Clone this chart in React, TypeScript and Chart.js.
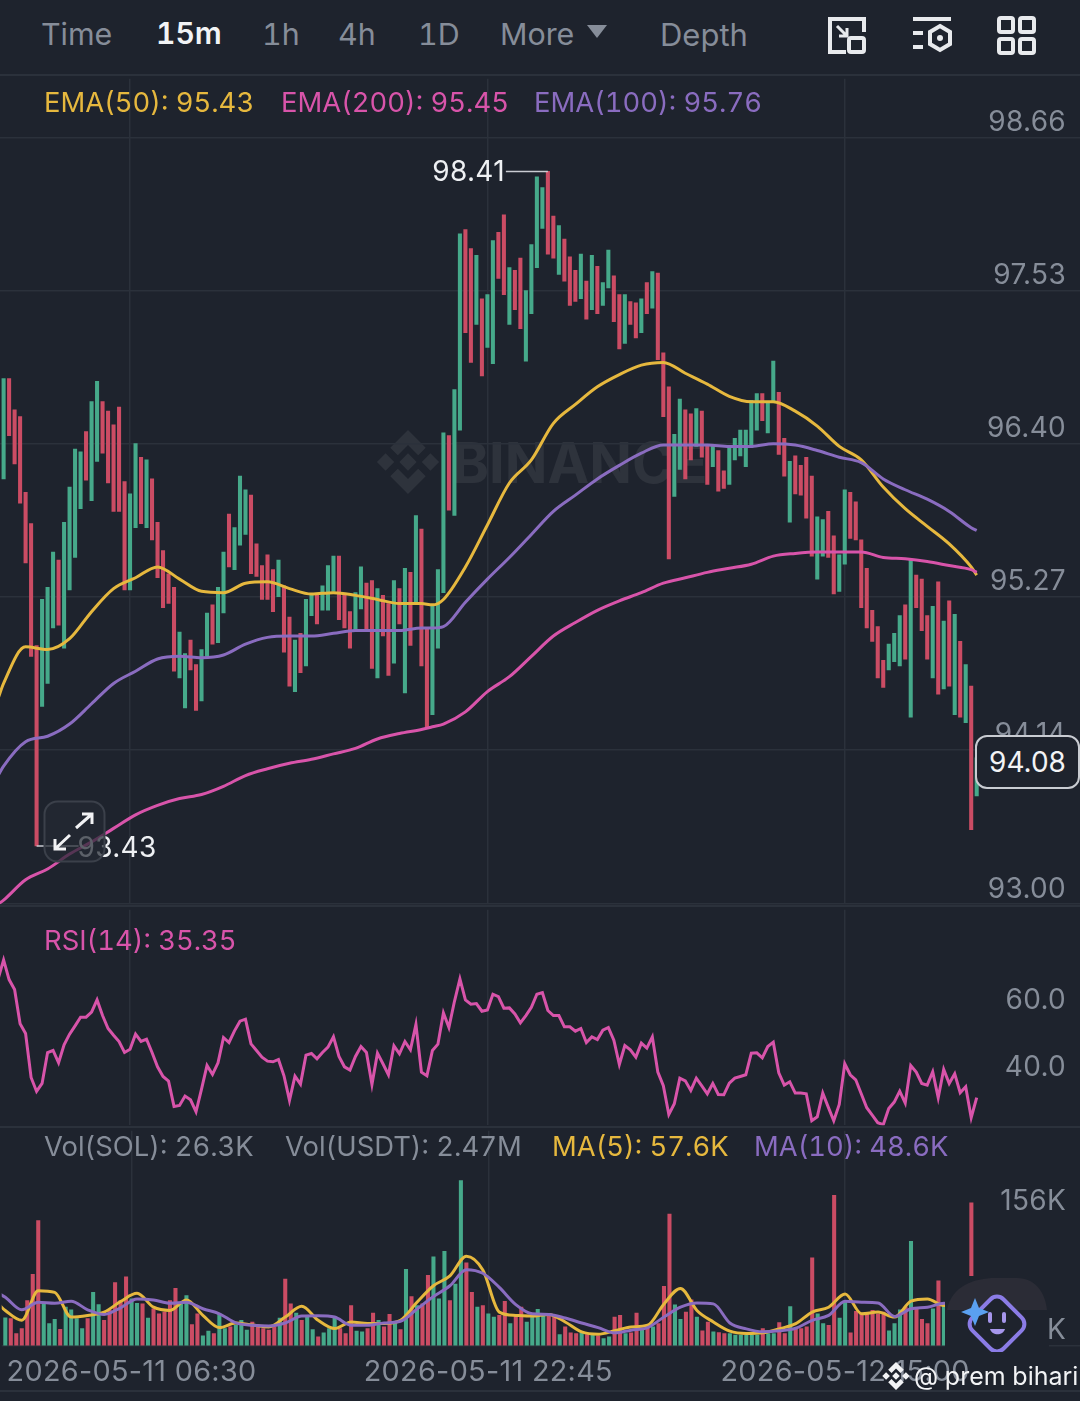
import React, { useEffect, useRef } from "react";
import { Chart, registerables } from "chart.js";

Chart.register(...registerables);

const directions =
  "GRRRRRRGGG" + "RGGGGRGGRR" + "RRRGGRGRRR" + "RRGGRRGGRG" + "GRGGGRRRRR" + "GRRGRGGRGG" +
  "GRRRGGRRGR" + "RGRGRGRRGG" + "GRGGRRGRGG" + "RRGRRGGGGR" + "RGRRRGRGRG" + "GRRGRRGRGR" +
  "RRGGRRGRRG" + "RRGGGGGGRG" + "GRRGRRRRGG" + "RRGGRRRRRR" + "RGGGRGRRRG" + "RGRGRGRG";

const highs = [
  96.88, 96.88, 96.65, 96.60, 96.04, 95.81, 94.91, 95.25, 95.34, 95.60,
  95.54, 95.82, 96.08, 96.36, 96.34, 96.49, 96.71, 96.86, 96.71, 96.64,
  96.54, 96.67, 96.12, 96.03, 96.40, 96.30, 96.28, 96.14, 95.82, 95.61,
  95.44, 95.34, 95.01, 94.85, 94.95, 94.77, 94.88, 95.15, 95.21, 95.34,
  95.60, 95.88, 95.78, 96.16, 96.06, 96.02, 95.66, 95.50, 95.58, 95.47,
  95.54, 95.35, 95.12, 94.95, 95.00, 95.25, 95.28, 95.28, 95.35, 95.50,
  95.57, 95.57, 95.28, 95.16, 95.30, 95.49, 95.37, 95.39, 95.33, 95.28,
  95.22, 95.39, 95.33, 95.48, 95.45, 95.87, 95.77, 95.03, 95.20, 95.47,
  96.48, 96.46, 96.80, 97.95, 97.98, 97.84, 97.79, 97.47, 97.50, 97.90,
  97.96, 98.09, 97.70, 97.68, 97.77, 97.53, 97.87, 98.37, 98.29, 98.41,
  98.08, 98.01, 97.91, 97.78, 97.68, 97.80, 97.60, 97.79, 97.71, 97.59,
  97.83, 97.64, 97.50, 97.50, 97.45, 97.44, 97.47, 97.59, 97.67, 97.66,
  97.07, 96.82, 96.47, 96.73, 96.65, 96.62, 96.66, 96.64, 96.39, 96.38,
  96.35, 96.20, 96.37, 96.44, 96.50, 96.50, 96.72, 96.77, 96.77, 96.71,
  97.01, 96.78, 96.44, 96.27, 96.31, 96.24, 96.30, 96.16, 95.86, 95.84,
  95.90, 95.72, 95.58, 96.06, 96.04, 95.97, 95.69, 95.48, 95.17, 95.05,
  94.80, 94.92, 95.00, 95.13, 95.21, 95.54, 95.43, 95.40, 95.13, 95.20,
  95.38, 95.09, 95.24, 95.14, 94.94, 94.77, 94.61, 94.08,
];

const lows = [
  96.14, 96.46, 96.25, 95.96, 95.52, 94.83, 93.43, 94.46, 94.63, 95.04,
  95.06, 94.89, 95.32, 95.56, 95.92, 96.13, 95.98, 96.27, 96.33, 96.11,
  95.90, 95.90, 95.32, 95.32, 95.78, 95.81, 95.78, 95.69, 95.41, 95.19,
  95.22, 94.72, 94.67, 94.45, 94.73, 94.43, 94.50, 94.83, 94.92, 94.93,
  95.15, 95.49, 95.47, 95.65, 95.73, 95.44, 95.42, 95.25, 95.25, 95.16,
  95.27, 94.86, 94.61, 94.57, 94.71, 94.76, 95.13, 95.07, 95.17, 95.17,
  95.31, 95.10, 95.04, 94.89, 95.02, 95.18, 95.03, 94.74, 94.67, 94.98,
  94.69, 94.78, 95.07, 94.56, 94.91, 95.22, 94.76, 94.30, 94.40, 94.89,
  95.30, 95.91, 95.87, 96.50, 97.22, 97.00, 97.28, 96.90, 97.11, 96.99,
  97.62, 97.50, 97.28, 97.39, 97.25, 97.01, 97.36, 97.70, 97.99, 97.80,
  97.77, 97.65, 97.60, 97.42, 97.45, 97.47, 97.32, 97.39, 97.36, 97.42,
  97.55, 97.30, 97.10, 97.14, 97.28, 97.18, 97.22, 97.36, 97.40, 97.02,
  96.60, 95.55, 96.01, 96.21, 96.14, 96.28, 96.38, 96.30, 96.10, 96.23,
  96.05, 96.07, 96.10, 96.28, 96.31, 96.23, 96.37, 96.50, 96.57, 96.48,
  96.71, 96.32, 96.16, 95.82, 96.03, 96.02, 95.85, 95.57, 95.40, 95.57,
  95.56, 95.29, 95.31, 95.51, 95.70, 95.69, 95.19, 95.04, 94.94, 94.67,
  94.60, 94.73, 94.79, 94.76, 94.81, 94.38, 95.19, 95.02, 94.81, 94.67,
  94.55, 94.59, 94.61, 94.40, 94.38, 94.34, 93.55, 93.80,
];

const emaIndex = [
  -1, 0, 4, 8, 12, 16, 20, 24, 28, 32, 36, 40, 44, 48, 52, 56, 60, 64, 68, 72, 76, 78, 80, 84, 88,
  92, 96, 100, 104, 108, 112, 116, 120, 124, 128, 132, 136, 140, 144, 148, 152, 156, 160, 164,
  168, 172, 176, 177,
];
const ema50 = [
  94.52, 94.63, 94.90, 94.88, 94.96, 95.16, 95.33, 95.41, 95.49, 95.40, 95.31, 95.30, 95.37, 95.38,
  95.33, 95.29, 95.30, 95.28, 95.25, 95.22, 95.22, 95.21, 95.25, 95.49, 95.80, 96.11, 96.28,
  96.55, 96.69, 96.82, 96.91, 96.98, 97.00, 96.92, 96.84, 96.75, 96.71, 96.71, 96.64, 96.53,
  96.38, 96.28, 96.08, 95.92, 95.79, 95.66, 95.49, 95.43,
];
const ema100 = [
  93.95, 94.02, 94.20, 94.24, 94.33, 94.48, 94.63, 94.72, 94.81, 94.83, 94.82, 94.84, 94.92, 94.97,
  94.98, 94.98, 95.00, 95.02, 95.02, 95.02, 95.04, 95.04, 95.05, 95.23, 95.40, 95.56, 95.73,
  95.90, 96.02, 96.14, 96.24, 96.33, 96.39, 96.39, 96.39, 96.38, 96.38, 96.40, 96.39, 96.35,
  96.30, 96.26, 96.14, 96.06, 95.99, 95.90, 95.78, 95.76,
];
const ema200 = [
  93.00, 93.03, 93.18, 93.26, 93.37, 93.46, 93.56, 93.66, 93.73, 93.78, 93.81, 93.87, 93.95, 94.00,
  94.04, 94.07, 94.11, 94.15, 94.22, 94.26, 94.29, 94.31, 94.33, 94.42, 94.57, 94.68, 94.83,
  94.98, 95.08, 95.17, 95.24, 95.30, 95.37, 95.41, 95.45, 95.48, 95.51, 95.57, 95.59, 95.60,
  95.60, 95.60, 95.56, 95.55, 95.53, 95.50, 95.47, 95.45,
];

const rsi14 = [
  71.0, 76.7, 70.8, 67.8, 57.5, 54.6, 41.4, 37.2, 39.6, 48.9, 49.5, 45.8, 51.2, 54.4, 56.9, 59.5, 59.5,
  61.0, 64.7, 60.0, 56.1, 54.1, 52.2, 48.9, 49.9, 54.4, 52.2, 52.9, 48.9, 44.6, 41.7, 40.3, 32.7,
  33.0, 35.8, 34.7, 31.1, 37.9, 45.0, 42.3, 45.8, 53.4, 51.9, 55.4, 58.3, 58.9, 51.5, 49.5, 47.5,
  46.3, 46.1, 46.8, 41.9, 34.5, 41.8, 39.4, 48.1, 48.6, 47.0, 48.9, 50.5, 53.6, 47.7, 44.6, 43.6,
  47.7, 50.7, 48.9, 39.3, 48.7, 45.5, 42.2, 50.9, 48.5, 52.2, 49.7, 57.3, 43.0, 41.9, 49.5, 51.4,
  60.8, 56.4, 64.2, 71.0, 64.7, 63.4, 63.6, 61.3, 61.7, 66.4, 65.7, 62.2, 62.3, 60.5, 57.8, 60.0,
  62.5, 66.4, 66.9, 61.5, 60.0, 60.0, 56.6, 56.6, 55.3, 56.1, 51.9, 53.6, 52.8, 55.6, 56.4, 52.6,
  45.3, 51.0, 49.7, 47.5, 51.7, 50.2, 53.6, 43.0, 38.9, 30.3, 33.5, 41.2, 40.4, 37.5, 41.2, 38.9,
  36.5, 39.6, 36.3, 36.2, 39.7, 41.2, 41.7, 42.2, 48.7, 48.8, 47.3, 50.7, 52.0, 42.8, 39.1, 40.1,
  36.7, 36.7, 36.5, 28.4, 29.6, 36.7, 32.5, 28.4, 33.3, 45.5, 42.2, 40.7, 36.5, 32.3, 30.1, 27.8,
  27.2, 32.1, 34.0, 37.3, 33.7, 45.0, 43.0, 39.6, 39.1, 43.1, 35.3, 43.8, 39.6, 42.5, 36.8, 38.6,
  29.3, 35.35,
];

const volumes = [
  34.1, 33.0, 15.1, 21.0, 54.8, 86.5, 151.3, 50.8, 27.0, 32.2, 20.2, 46.8, 43.7, 33.0, 21.0, 33.0,
  64.7, 50.0, 31.0, 42.9, 76.6, 54.8, 83.4, 56.8, 51.6, 50.8, 33.7, 44.9, 38.9, 40.9, 54.8, 69.5,
  52.8, 60.7, 25.8, 38.9, 12.3, 17.9, 15.1, 38.9, 21.0, 23.0, 25.0, 31.0, 19.1, 29.0, 23.0, 21.0,
  19.1, 23.0, 33.7, 80.6, 50.8, 39.7, 31.0, 34.9, 19.9, 11.1, 15.9, 21.0, 34.9, 21.0, 15.1, 48.8,
  17.9, 17.1, 21.0, 39.7, 31.0, 23.0, 38.1, 29.0, 19.9, 92.5, 59.6, 48.8, 50.8, 85.4, 107.6, 56.8,
  114.3, 54.8, 74.6, 199.7, 100.4, 64.7, 46.8, 48.8, 38.9, 34.9, 36.9, 54.0, 27.0, 36.9, 46.8, 29.0,
  34.9, 44.1, 38.9, 36.9, 36.9, 13.9, 23.0, 15.9, 15.1, 15.9, 13.9, 13.1, 12.3, 9.1, 11.1, 34.9,
  36.9, 15.1, 15.9, 39.7, 21.0, 25.0, 23.0, 27.0, 71.9, 159.2, 49.6, 32.2, 40.9, 55.6, 34.9, 18.3,
  29.0, 17.1, 16.3, 15.1, 15.1, 13.1, 13.1, 13.1, 13.1, 13.1, 21.0, 15.1, 15.1, 28.2, 15.1, 47.6,
  21.0, 21.0, 23.0, 106.4, 38.9, 27.0, 25.0, 181.8, 33.7, 52.8, 15.9, 41.7, 38.9, 38.9, 42.9, 38.9,
  40.9, 18.3, 27.0, 43.7, 46.8, 126.2, 44.9, 32.2, 27.0, 44.9, 78.6, 48.8, 45.0, 74.6, 40.0, 50.0,
  172.7, 26.3,
];

const maIndex = [
  -1, 0, 3, 6, 9, 12, 15, 18, 21, 24, 27, 30, 33, 36, 39, 42, 45, 48, 51, 54, 57, 60, 63, 66, 69, 72,
  75, 78, 81, 84, 87, 90, 93, 96, 99, 102, 105, 108, 111, 114, 117, 120, 123, 126, 129, 132, 135,
  138, 141, 144, 147, 150, 153, 156, 159, 162, 165, 168, 171, 174, 177,
];
const ma5 = [
  48.8, 42.9, 31.0, 66.7, 64.7, 34.9, 36.9, 40.9, 53.6, 63.5, 46.8, 42.9, 55.6, 36.9, 22.2, 27.8, 25.4,
  23.0, 34.9, 48.0, 31.0, 21.0, 29.0, 27.0, 27.0, 31.0, 52.8, 72.7, 84.6, 108.4, 91.7, 40.9, 36.9,
  36.1, 38.1, 29.0, 17.1, 14.3, 18.3, 23.0, 25.0, 50.8, 69.5, 42.9, 29.0, 17.9, 15.1, 15.9, 20.6,
  27.0, 40.9, 46.8, 62.7, 38.9, 40.9, 34.9, 54.0, 56.8, 48.8, 50.0, 57.6,
];
const ma10 = [
  62.7, 58.8, 43.7, 52.8, 51.6, 54.0, 43.7, 38.1, 46.1, 56.8, 55.6, 51.6, 52.8, 44.9, 38.9, 27.8, 25.0,
  24.2, 27.8, 36.1, 36.5, 34.9, 25.0, 25.0, 27.8, 29.8, 44.5, 59.6, 72.7, 92.1, 87.7, 70.7, 50.0,
  38.9, 38.1, 33.7, 27.8, 22.2, 15.9, 19.1, 22.2, 34.9, 46.8, 52.0, 50.8, 27.8, 20.6, 17.1, 18.3,
  21.4, 31.0, 36.9, 54.0, 52.8, 52.0, 35.7, 44.9, 46.8, 51.6, 50.0, 48.6,
];

const priceTicks = [98.66, 97.53, 96.4, 95.27, 94.14, 93.0];
const rsiTicks = [60, 40];
const volumeTicks = [156, 0];
const timeIndex = [23, 88, 153];
const timeLabels = ["2026-05-11 06:30", "2026-05-11 22:45", "2026-05-12 15:00"];

const BG = "#1e232d";
const GRID = "#2b313b";
const TICK = "#868d99";
const GREEN = "#46a98a";
const RED = "#cb4c64";
const YELLOW = "#e6b83e";
const PINK = "#d854aa";
const PURPLE = "#8a6cc0";
const FONT = "Inter, 'Noto Sans', sans-serif";
const X_MIN = -0.655;
const X_MAX = 195.79;

const colours = directions.split("").map((d) => (d === "G" ? GREEN : RED));

function xAxis(showLabels: boolean, height: number) {
  return {
    type: "linear" as const,
    offset: false,
    min: X_MIN,
    max: X_MAX,
    grid: { offset: false, color: GRID, lineWidth: 1.5, drawTicks: false },
    border: { display: false },
    afterBuildTicks: (s: any) => {
      s.ticks = timeIndex.map((value) => ({ value }));
    },
    afterFit: (s: any) => {
      s.height = height;
    },
    ticks: {
      display: showLabels,
      autoSkip: false,
      maxRotation: 0,
      padding: 9,
      color: TICK,
      font: { family: FONT, size: 28.8 },
      callback: (v: any) => timeLabels[timeIndex.indexOf(v)] ?? "",
    },
  };
}

function yAxis(min: number, max: number, values: number[], format: (v: number) => string, gridColor: any) {
  return {
    type: "linear" as const,
    position: "right" as const,
    beginAtZero: false,
    min,
    max,
    border: { display: false },
    grid: { color: gridColor, lineWidth: 1.5, drawTicks: false },
    afterBuildTicks: (s: any) => {
      s.ticks = values.map((value) => ({ value }));
    },
    afterFit: (s: any) => {
      s.width = 0;
    },
    ticks: {
      mirror: true,
      padding: -14,
      labelOffset: -15,
      autoSkip: false,
      color: TICK,
      font: { family: FONT, size: 28 },
      callback: (v: any) => format(Number(v)),
    },
  };
}

function line(label: string, index: number[], values: number[], color: string, width = 3) {
  return {
    type: "line" as const,
    label,
    data: values.map((y, i) => ({ x: index[i], y })),
    borderColor: color,
    backgroundColor: color,
    borderWidth: width,
    pointRadius: 0,
    cubicInterpolationMode: "monotone" as const,
    order: 1,
  };
}

const spaced = {
  id: "spaced",
  beforeDraw(chart: any) {
    chart.ctx.letterSpacing = "0.3px";
  },
};

const baseOptions = {
  responsive: false,
  animation: false as const,
  events: [] as any[],
  plugins: { legend: { display: false }, tooltip: { enabled: false } },
};

const extremes = {
  id: "extremes",
  afterDatasetsDraw(chart: any) {
    const { ctx, scales } = chart;
    const hi = Math.max(...highs);
    const lo = Math.min(...lows);
    const hiX = scales.x.getPixelForValue(highs.indexOf(hi));
    const loX = scales.x.getPixelForValue(lows.indexOf(lo));
    const hiY = scales.y.getPixelForValue(hi);
    const loY = scales.y.getPixelForValue(lo);
    ctx.save();
    ctx.font = `28px ${FONT}`;
    ctx.fillStyle = "#eef0f3";
    ctx.strokeStyle = "#c9ccd2";
    ctx.lineWidth = 1.5;
    ctx.textBaseline = "middle";
    ctx.beginPath();
    ctx.moveTo(hiX, hiY);
    ctx.lineTo(hiX - 42, hiY);
    ctx.moveTo(loX, loY);
    ctx.lineTo(loX + 42, loY);
    ctx.stroke();
    ctx.textAlign = "right";
    ctx.fillText(hi.toFixed(2), hiX - 43, hiY + 1);
    ctx.textAlign = "left";
    ctx.fillText(lo.toFixed(2), loX + 41, loY + 3);
    ctx.restore();
  },
};

function Txt({ x, y, color, size = 27.4, weight = 400, children }: any) {
  return (
    <div
      style={{
        position: "absolute",
        left: x,
        top: y,
        transform: "translateY(-50%)",
        color,
        fontSize: size,
        fontWeight: weight,
        fontFamily: FONT,
        fontVariantNumeric: "tabular-nums",
        whiteSpace: "nowrap",
        lineHeight: 1,
      }}
    >
      {children}
    </div>
  );
}

function Rule({ y }: { y: number }) {
  return <div style={{ position: "absolute", left: 0, top: y, width: 1080, height: 2, background: GRID }} />;
}

function Diamond({ cx, cy, s, color }: any) {
  const r = (x: number, y: number, w: number) => (
    <rect x={x - w / 2} y={y - w / 2} width={w} height={w} transform={`rotate(45 ${x} ${y})`} fill={color} />
  );
  return (
    <svg style={{ position: "absolute", left: cx - s, top: cy - s }} width={s * 2} height={s * 2} viewBox="-10 -10 20 20">
      {r(0, 0, 3.6)}
      {r(-6.6, 0, 3.6)}
      {r(6.6, 0, 3.6)}
      <path d="M0 -9.4 L5.2 -4.2 L3 -2 L0 -5 L-3 -2 L-5.2 -4.2 Z" fill={color} />
      <path d="M0 9.4 L5.2 4.2 L3 2 L0 5 L-3 2 L-5.2 4.2 Z" fill={color} />
    </svg>
  );
}

function HeaderIcons() {
  const st = { stroke: "#e8eaed", strokeWidth: 4, fill: "none" };
  return (
    <svg style={{ position: "absolute", left: 820, top: 10 }} width={230} height={50}>
      <path d="M28 9 H10 V42 H26" {...st} />
      <path d="M10 9 H44 V22" {...st} />
      <rect x="29" y="28" width="15" height="14" rx="2" {...st} />
      <path d="M17 16 L27 26 M27 18 V26 H19" {...st} strokeWidth={3} />
      <path d="M93 9 H131 M93 23 H103 M93 37 H103 M110 9" {...st} />
      <path d="M120 16 L130 22 V34 L120 40 L110 34 V22 Z" {...st} />
      <circle cx="120" cy="28" r="3" fill="#e8eaed" />
      <rect x="179" y="8" width="14" height="14" rx="2" {...st} />
      <rect x="200" y="8" width="14" height="14" rx="2" {...st} />
      <rect x="179" y="29" width="14" height="14" rx="2" {...st} />
      <rect x="200" y="29" width="14" height="14" rx="2" {...st} />
    </svg>
  );
}

function Sticker() {
  return (
    <svg style={{ position: "absolute", left: 945, top: 1276 }} width={104} height={76}>
      <rect x="0" y="0" width="104" height="76" fill={BG} />
      <path d="M2 34 C6 10 30 2 50 2 H72 C90 2 100 16 102 34 Z" fill="#2b2c36" />
      <g transform="rotate(45 52 48)">
        <rect x="30" y="26" width="44" height="44" rx="9" fill={BG} stroke="#8b7ce6" strokeWidth="4" />
      </g>
      <path d="M30 22 L34 32 L44 36 L34 40 L30 50 L26 40 L16 36 L26 32 Z" fill="#5aa0f0" />
      <rect x="43" y="36" width="4" height="11" rx="2" fill="#a696ec" />
      <rect x="57" y="36" width="4" height="11" rx="2" fill="#a696ec" />
      <path d="M45 53 H60 C58 60 47 60 45 53 Z" fill="#a696ec" />
    </svg>
  );
}

function ExpandButton() {
  return (
    <svg style={{ position: "absolute", left: 43, top: 800 }} width={64} height={64}>
      <rect x="1.5" y="1.5" width="60" height="60" rx="13" fill="rgba(36,41,51,0.72)" stroke="#3b404a" strokeWidth="2" />
      <path d="M33 28 L49 14 M39 14 H49 V24 M27 35 L12 49 M12 39 V49 H23" stroke="#f1f2f4" strokeWidth="3" fill="none" />
    </svg>
  );
}

export default function App() {
  const priceRef = useRef<HTMLCanvasElement>(null);
  const rsiRef = useRef<HTMLCanvasElement>(null);
  const volRef = useRef<HTMLCanvasElement>(null);

  useEffect(() => {
    const price = new Chart(priceRef.current as any, {
      type: "bar",
      data: {
        datasets: [
          {
            type: "bar",
            label: "SOL",
            data: highs.map((h, i) => ({ x: i, y: [lows[i], h] })) as any,
            backgroundColor: colours,
            barThickness: 3.4,
            order: 2,
          },
          line("EMA(200)", emaIndex, ema200, PINK),
          line("EMA(100)", emaIndex, ema100, PURPLE),
          line("EMA(50)", emaIndex, ema50, YELLOW),
        ] as any,
      },
      options: {
        ...baseOptions,
        layout: { autoPadding: false, padding: { bottom: 1 } },
        scales: {
          x: xAxis(false, 0),
          y: yAxis(93, 99.094, priceTicks, (v) => v.toFixed(2), GRID),
        },
      } as any,
      plugins: [spaced, extremes],
    });

    const rsiLine: any = line("RSI(14)", rsi14.map((_, i) => i - 1), rsi14, PINK);
    rsiLine.cubicInterpolationMode = "default";
    rsiLine.tension = 0;
    const rsi = new Chart(rsiRef.current as any, {
      type: "line",
      data: { datasets: [rsiLine] },
      options: {
        ...baseOptions,
        layout: { autoPadding: false, padding: { bottom: 1 } },
        scales: {
          x: xAxis(false, 0),
          y: yAxis(27.06, 91.76, rsiTicks, (v) => v.toFixed(1), "rgba(0,0,0,0)"),
        },
      } as any,
      plugins: [spaced],
    });

    const vol = new Chart(volRef.current as any, {
      type: "bar",
      data: {
        datasets: [
          {
            type: "bar",
            label: "Volume",
            data: volumes.map((y, i) => ({ x: i, y })),
            backgroundColor: colours,
            barThickness: 3.4,
            order: 2,
          },
          line("MA(10)", maIndex, ma10, PURPLE),
          line("MA(5)", maIndex, ma5, YELLOW),
        ] as any,
      },
      options: {
        ...baseOptions,
        layout: { autoPadding: false },
        scales: {
          x: xAxis(true, 45),
          y: yAxis(0, 259.6, volumeTicks, (v) => (v === 0 ? "K" : `${v}K`), (c: any) =>
            c.tick && c.tick.value === 0 ? GRID : "rgba(0,0,0,0)"
          ),
        },
      } as any,
      plugins: [spaced],
    });

    return () => {
      price.destroy();
      rsi.destroy();
      vol.destroy();
    };
  }, []);

  return (
    <div style={{ position: "relative", width: 1080, height: 1401, overflow: "hidden", background: BG }}>
      <style>{`html,body{margin:0;padding:0;background:${BG}}`}</style>
      <Rule y={74} />
      <Rule y={905} />
      <Rule y={1126} />
      <Rule y={1390} />

      <Txt x={41} y={34} color={TICK} size={30.4}>Time</Txt>
      <Txt x={156} y={33} color="#f2f3f5" size={30} weight={600}>15m</Txt>
      <Txt x={262} y={34} color={TICK} size={30.4}>1h</Txt>
      <Txt x={338} y={34} color={TICK} size={30.4}>4h</Txt>
      <Txt x={418} y={34} color={TICK} size={30.4}>1D</Txt>
      <Txt x={500} y={34} color={TICK} size={30.4}>More</Txt>
      <svg style={{ position: "absolute", left: 587, top: 24 }} width={20} height={16}>
        <path d="M0 1 H20 L10 14 Z" fill={TICK} />
      </svg>
      <Txt x={660} y={34} color={TICK} size={31}>Depth</Txt>
      <HeaderIcons />

      <Diamond cx={408} cy={462} s={34} color="rgba(255,255,255,0.075)" />
      <Txt x={452} y={463} color="rgba(255,255,255,0.075)" size={56} weight={700}>BINANCE</Txt>

      <div style={{ position: "absolute", left: 0, top: 76 }}>
        <canvas ref={priceRef} width={1080} height={831} style={{ display: "block" }} />
      </div>
      <div style={{ position: "absolute", left: 0, top: 907 }}>
        <canvas ref={rsiRef} width={1080} height={221} style={{ display: "block" }} />
      </div>
      <div style={{ position: "absolute", left: 0, top: 1128 }}>
        <canvas ref={volRef} width={1080} height={263} style={{ display: "block" }} />
      </div>

      <Txt x={44} y={103} color={YELLOW}>EMA(50): 95.43</Txt>
      <Txt x={281} y={103} color={PINK}>EMA(200): 95.45</Txt>
      <Txt x={534} y={103} color={PURPLE}>EMA(100): 95.76</Txt>
      <Txt x={44} y={941} color={PINK}>RSI(14): 35.35</Txt>
      <Txt x={44} y={1147} color={TICK}>Vol(SOL): 26.3K</Txt>
      <Txt x={285} y={1147} color={TICK}>Vol(USDT): 2.47M</Txt>
      <Txt x={552} y={1147} color={YELLOW}>MA(5): 57.6K</Txt>
      <Txt x={754} y={1147} color={PURPLE}>MA(10): 48.6K</Txt>

      <div
        style={{
          position: "absolute",
          left: 975,
          top: 735,
          width: 101,
          height: 50,
          border: "2px solid #c9ccd2",
          borderRadius: 12,
          background: BG,
          color: "#f2f3f5",
          fontFamily: FONT,
          fontSize: 28,
          lineHeight: "50px",
          textAlign: "center",
        }}
      >
        94.08
      </div>

      <ExpandButton />
      <Sticker />
      <Diamond cx={896} cy={1376} s={15} color="#f2f3f5" />
      <Txt x={914} y={1376} color="#f2f3f5" size={25}>@ prem bihari</Txt>
    </div>
  );
}
